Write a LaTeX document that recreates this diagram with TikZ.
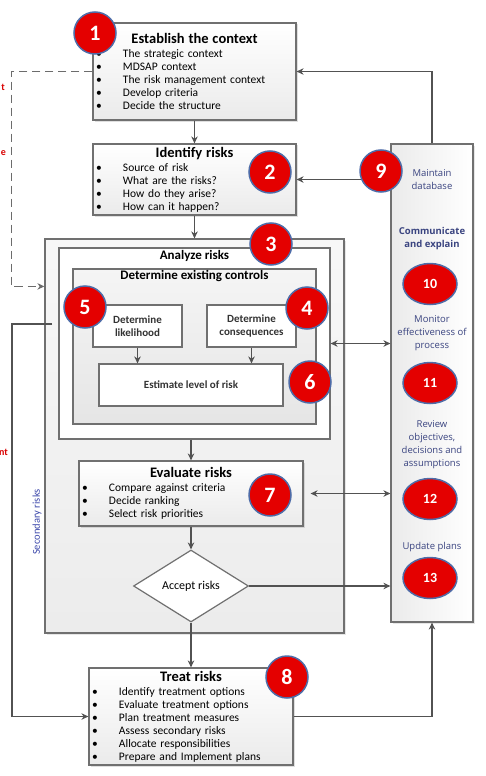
\documentclass[tikz,border=0pt]{standalone}
\usepackage{fontspec}
\setmainfont{Carlito}
\newfontfamily\dbfont{Open Sans}
\usetikzlibrary{shadows, arrows, arrows.meta, fit, positioning, shapes.geometric}
\definecolor{my_red}{RGB}{228, 0, 0}
\definecolor{my_ring}{RGB}{78, 108, 168}
\definecolor{my_edge}{RGB}{112, 112, 112}
\definecolor{my_arrow}{RGB}{82, 82, 82}
\definecolor{my_navy}{RGB}{58, 68, 128}
\definecolor{my_blue}{RGB}{60, 72, 170}
\newcommand{\itemfont}{\fontsize{11.5}{13}\selectfont}
\newcommand{\bul}[1]{\makebox[27pt][l]{\textbullet}#1}
\newcommand{\boxhead}[1]{\makebox[\hsize]{\fontsize{14.5}{15}\selectfont\bfseries #1}}
\tikzset {
  panel/.style = {draw=my_edge, line width=1.2pt, rectangle, top color=white, bottom color=gray!16, inner sep=3pt, align=left, font=\itemfont, drop shadow={opacity=0.25, shadow xshift=1.5pt, shadow yshift=-1.5pt}},
  frame/.style = {draw=my_edge, line width=1.2pt, rectangle, fill=white},
  box/.style = {draw=my_edge, line width=1.2pt, rectangle, fill=white, align=center, font=\fontsize{11}{13}\selectfont\bfseries, text=black!80, drop shadow={opacity=0.2, shadow xshift=1pt, shadow yshift=-1pt}},
  heading/.style = {font=\fontsize{13}{13}\selectfont\bfseries, inner sep=1pt},
  numb/.style = {circle, draw=my_ring, line width=1.5pt, fill=my_red, text=white, font=\fontsize{22}{22}\selectfont\bfseries, minimum size=42pt, inner sep=0pt},
  numbe/.style = {ellipse, draw=my_ring, line width=1.5pt, fill=my_red, text=white, font=\fontsize{14}{14}\selectfont\bfseries, minimum width=54pt, minimum height=41pt, inner sep=0pt},
  dblbl/.style = {font=\dbfont\fontsize{9.5}{13}\selectfont, text=my_navy, align=center, inner sep=0pt},
  redlbl/.style = {font=\fontsize{10}{10}\selectfont\bfseries, text=red!85!black, inner sep=0pt},
  line/.style = {->, line width=1.2pt, color=my_arrow, >={Stealth[length=7pt, width=6.5pt]}}
}

\begin{document}
\begin{tikzpicture}[x=1pt, y=-1pt]
    \useasboundingbox (0,0) rectangle (486,776);

    \node[panel, minimum width=203pt, minimum height=97pt, text width=197pt] (ctx) at (194.5,71.5) {\boxhead{Establish the context}\\[1pt]
      \bul{The strategic context}\\ \bul{MDSAP context}\\ \bul{The risk management context}\\ \bul{Develop criteria}\\ \bul{Decide the structure}};
    \node[panel, minimum width=203pt, minimum height=71pt, text width=197pt] (risks) at (194.5,179.5) {\boxhead{Identify risks}\\[1pt]
      \bul{Source of risk}\\ \bul{What are the risks?}\\ \bul{How do they arise?}\\ \bul{How can it happen?}};

    \node[draw=my_edge, line width=1.2pt, top color=gray!6, bottom color=gray!15, minimum width=299pt, minimum height=394pt, drop shadow={opacity=0.2, shadow xshift=1.5pt, shadow yshift=-1.5pt}] (outer) at (194.5,436) {};
    \node[frame, minimum width=271pt, minimum height=191pt] (analyze) at (194.5,343.5) {};
    \node[heading, below=2pt of analyze.north] (analyzelbl) {Analyze risks};
    \node[draw=my_edge, line width=1.2pt, top color=gray!8, bottom color=gray!20, minimum width=243pt, minimum height=155pt] (controls) at (194.5,346.5) {};
    \node[heading, below=1pt of controls.north] (controlslbl) {Determine existing controls};
    \node[box, minimum width=89pt, minimum height=42pt] (likeli) at (137.5,326) {Determine\\likelihood};
    \node[box, minimum width=89pt, minimum height=42pt] (conseq) at (251.5,326) {Determine\\consequences};
    \node[box, minimum width=184pt, minimum height=42pt] (estim) at (191,385) {Estimate level of risk};

    \node[panel, minimum width=224pt, minimum height=65pt, text width=218pt] (evalr) at (191,493.5) {\boxhead{Evaluate risks}\\[1pt]
      \bul{Compare against criteria}\\ \bul{Decide ranking}\\ \bul{Select risk priorities}};
    \node[diamond, draw=my_edge, line width=1.2pt, fill=white, minimum width=115pt, minimum height=72pt, inner sep=0pt, font=\fontsize{12}{12}\selectfont] (accept) at (191,586) {Accept risks};
    \node[panel, minimum width=204pt, minimum height=95pt, text width=198pt] (treat) at (191,716.5) {\boxhead{Treat risks}\\[1pt]
      \bul{Identify treatment options}\\ \bul{Evaluate treatment options}\\ \bul{Plan treatment measures}\\ \bul{Assess secondary risks}\\ \bul{Allocate responsibilities}\\ \bul{Prepare and Implement plans}};

    \node[draw=my_edge, line width=1.2pt, left color=gray!16, right color=white, minimum width=82pt, minimum height=478pt, drop shadow={opacity=0.2, shadow xshift=1.5pt, shadow yshift=-1.5pt}] (dbase) at (432,383) {};
    \node[dblbl] (dblbl1) at (432,179.5) {Maintain\\database};
    \node[dblbl, font=\dbfont\fontsize{9.5}{13}\selectfont\bfseries] (dblbl2) at (432,239) {Communicate\\and explain};
    \node[dblbl] (dblbl3) at (432,333) {Monitor\\effectiveness of\\process};
    \node[dblbl] (dblbl4) at (432,445) {Review\\objectives,\\decisions and\\assumptions};
    \node[dblbl] (dblbl5) at (432,547) {Update plans};

    \node[font=\fontsize{10.5}{10.5}\selectfont, text=my_blue, rotate=90] (seclbl) at (37,522) {Secondary risks};
    \node[redlbl, anchor=east] (redA) at (5,87) {t};
    \node[redlbl, anchor=east] (redB) at (6,153) {e};
    \node[redlbl, anchor=east] (redC) at (8,452) {nt};
    \coordinate (secfrom) at (52,324);

    \draw[line, ->] (ctx) -- (risks);
    \draw[line, ->] (risks) -- (outer.north);
    \draw[line, ->] (likeli.south) -- (likeli.south |- estim.north);
    \draw[line, ->] (conseq.south) -- (conseq.south |- estim.north);
    \draw[line, ->] (evalr.north |- analyze.south) -- (evalr.north);
    \draw[line, ->] (evalr) -- (accept);
    \draw[line, ->] (accept) -- (treat);
    \draw[line, ->] (accept.east) -- (accept.east -| dbase.west);
    \draw[line, <->, shorten <=7pt] (evalr.east) -- (evalr.east -| dbase.west);
    \draw[line, <->] (analyze.east) -- (analyze.east -| dbase.west);
    \draw[line, ->] (dbase.north) |- (ctx.east);
    \draw[line, ->] (dbase.west |- risks.east) -- (risks.east);
    \draw[line, ->] (treat.east) -| (dbase.south);
    \draw[line, ->] (secfrom) -- ++(-40,0) |- (treat.west);
    \draw[line, ->, line width=1.6pt, color=gray!85!black, dash pattern=on 8pt off 5pt] (ctx.west) -- ++(-81,0) |- ([yshift=-48pt]outer.north west);

    \node[numb] (n1) at (95,33) {1};
    \node[numb] (n2) at (270,172) {2};
    \node[numb] (n3) at (271,244) {3};
    \node[numb] (n4) at (307,308) {4};
    \node[numb] (n5) at (85,307) {5};
    \node[numb] (n6) at (310,382) {6};
    \node[numb] (n7) at (270,495) {7};
    \node[numb] (n8) at (287,677) {8};
    \node[numb] (n9) at (381,171) {9};
    \node[numbe] (n10) at (430,284) {10};
    \node[numbe] (n11) at (430,383) {11};
    \node[numbe] (n12) at (430,499) {12};
    \node[numbe] (n13) at (430,578) {13};

  \end{tikzpicture}
\end{document}
